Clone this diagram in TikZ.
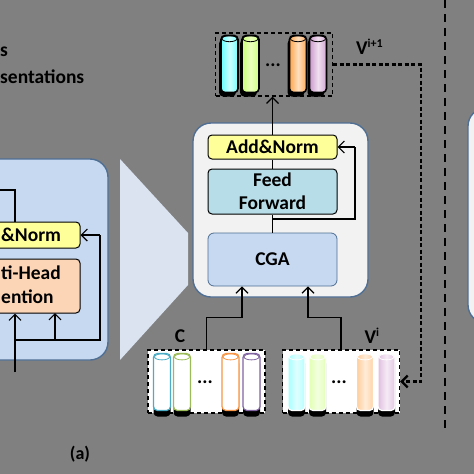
\documentclass[tikz,border=0pt]{standalone}
\usepackage{fontspec}
\setmainfont{Carlito}
\usetikzlibrary{arrows.meta,shadows}
\definecolor{bg}{HTML}{808080}
\definecolor{pborder}{HTML}{4F6F94}
\definecolor{lpanel}{HTML}{C6D9F1}
\definecolor{mpanel}{HTML}{F2F2F2}
\definecolor{tri}{HTML}{DAE3EF}
\definecolor{yel}{HTML}{FFFF99}
\definecolor{ffc}{HTML}{B7DDE8}
\definecolor{cgac}{HTML}{C6D9F1}
\definecolor{mhac}{HTML}{FBD5B5}
\definecolor{cblue}{HTML}{4BACC6}
\definecolor{cgreen}{HTML}{9BBB59}
\definecolor{corange}{HTML}{F79646}
\definecolor{cpurple}{HTML}{8064A2}
\newcommand\fnt{\bfseries\fontsize{19.5}{24}\selectfont}
\newcommand\mycyl[5]{%
  \node[cylb,#4] (#1) at (#2,#3) {};
  \draw[#5, line width=0.8pt] ([yshift=-4pt]#1.north) ellipse [x radius=7.5pt, y radius=3pt];
}
\begin{document}
\begin{tikzpicture}[x=1pt,y=-1pt,
  panel/.style={draw=pborder, line width=1.4pt, rounded corners=18pt, inner sep=0pt},
  blk/.style={draw=black, line width=1pt, rounded corners=4pt, minimum width=129pt, inner sep=0pt, align=center, font=\fnt},
  lbl/.style={font=\fnt, inner sep=0pt},
  arr/.style={line width=1.2pt, -{Straight Barb[length=6pt,width=12pt]}},
  ln/.style={line width=1.2pt},
  vecbox/.style={draw=black, dash pattern=on 4pt off 3pt, line width=1.3pt, minimum width=117pt, minimum height=63pt, inner sep=0pt},
  fbk/.style={line width=2.2pt, dash pattern=on 4pt off 2.5pt, -{Straight Barb[length=6pt,width=12pt]}},
  sep/.style={line width=1.8pt, dash pattern=on 8pt off 6pt},
  cylb/.style={rounded corners=4pt, minimum width=17pt, minimum height=57pt, inner sep=0pt, line width=1.2pt},
  topcyl/.style={draw=black, line width=1.6pt, drop shadow={shadow xshift=-2pt, shadow yshift=-4pt, fill=black, opacity=1}},
  botcyl/.style={drop shadow={shadow xshift=0pt, shadow yshift=-6pt, fill=black, opacity=1}},
]
\useasboundingbox (0,0) rectangle (474,474);
\fill[bg] (0,0) rectangle (474,474);

% left panel (cropped)
\node[panel, fill=lpanel, minimum width=168pt, minimum height=201pt] (lp) at (24,259.5) {};
\node[blk, fill=yel, minimum height=26pt, minimum width=130pt] (laddm) at (15,235) {};
\node[lbl, anchor=west] (tnorm) at (1,235) {\&Norm};
\node[blk, fill=mhac, minimum height=54pt, minimum width=130pt] (lmha) at (15,286) {};
\node[lbl, anchor=west] (tmha1) at (1,273) {ti-Head};
\node[lbl, anchor=west] (tmha2) at (1,297) {ention};
\coordinate (lin) at (15,372);
\coordinate (lsplit) at (15,340);
\coordinate (ltop) at (0,190);
\draw[arr] (lin) -- (lmha.south -| lin);
\draw[ln] (lsplit) -- (100,340) -- (100,235);
\draw[arr] (100,235) -- (laddm.east);
\draw[arr] (55,340) -- (55,313);
\draw[ln] (laddm.north -| lin) |- (ltop);

% top-left text (cropped in the original)
\node[lbl, anchor=west] (ts) at (0,52) {s};
\node[lbl, anchor=west] (tsent) at (0,77) {sentations};

% projection shape
\fill[tri] (120,159) -- (188,233) -- (188,285) -- (120,360) -- cycle;

% middle panel
\node[panel, fill=mpanel, minimum width=175pt, minimum height=174pt] (mp) at (280.5,210) {};
\node[blk, fill=yel, minimum height=24pt] (addm) at (272.5,147) {Add\&Norm};
\node[blk, fill=ffc, minimum height=45pt] (ff) at (272.5,191.5) {Feed\\[-1pt]Forward};
\node[blk, fill=cgac, draw=pborder, line width=0.8pt, rounded corners=6pt, minimum height=53pt] (cga) at (272.5,259.5) {CGA};
\coordinate (res) at (272.5,219);
\draw[ln] (cga.north) -- (ff.south);
\draw[ln] (ff.north) -- (addm.south);
\draw[ln] (res) -- (355,219) -- (355,147);
\draw[arr] (355,147) -- (addm.east);

% right panel (cropped)
\node[panel, fill=mpanel, minimum width=120pt, minimum height=215pt] (rp) at (528,215.5) {};
\draw[sep] (445,0) coordinate (s1) -- (445,433) coordinate (s2);

% output vectors
\node[vecbox] (out) at (274,64.5) {};
\mycyl{o1}{229.5}{64}{topcyl, left color=cyan!60!white, right color=cyan!55!white, middle color=cyan!20!white}{black}
\mycyl{o2}{250.5}{64}{topcyl, left color=green!40!yellow!55!white, right color=green!40!yellow!50!white, middle color=green!30!yellow!25!white}{black}
\mycyl{o3}{298}{64}{topcyl, left color=orange!70!white, right color=orange!65!white, middle color=orange!25!white}{black}
\mycyl{o4}{318}{64}{topcyl, left color=violet!40!white, right color=violet!35!white, middle color=violet!12!white}{black}
\node[lbl, anchor=base] (odots) at (273,66) {...};
\node[lbl, anchor=west] (vi1) at (356,47) {V\textsuperscript{\fontsize{12}{12}\selectfont i+1}};

% C vectors
\node[vecbox, fill=white] (cbox) at (206.5,381.5) {};
\mycyl{c1}{162}{382}{botcyl, draw=cblue, fill=white}{cblue}
\mycyl{c2}{182}{382}{botcyl, draw=cgreen, fill=white}{cgreen}
\mycyl{c3}{230.5}{382}{botcyl, draw=corange, fill=white}{corange}
\mycyl{c4}{251.5}{382}{botcyl, draw=cpurple, fill=white}{cpurple}
\node[lbl, anchor=base] (cdots) at (205,383) {...};
\node[lbl] (clab) at (180,336) {C};

% V^i vectors
\node[vecbox, fill=white] (vbox) at (341,381.5) {};
\mycyl{v1}{296.5}{382}{botcyl, draw=white, left color=cyan!35!white, right color=cyan!30!white, middle color=cyan!12!white}{white}
\mycyl{v2}{317.5}{382}{botcyl, draw=white, left color=green!40!yellow!30!white, right color=green!40!yellow!28!white, middle color=green!40!yellow!12!white}{white}
\mycyl{v3}{365}{382}{botcyl, draw=white, left color=orange!40!white, right color=orange!35!white, middle color=orange!15!white}{white}
\mycyl{v4}{386.5}{382}{botcyl, draw=white, left color=violet!25!white, right color=violet!22!white, middle color=violet!8!white}{white}
\node[lbl, anchor=base] (vdots) at (339,383) {...};
\node[lbl] (vlab) at (372,336) {V\textsuperscript{\fontsize{12}{12}\selectfont i}};

% connectors
\draw[arr] (addm.north) -- (addm.north |- out.south);
\draw[arr] (cbox.north) -- ++(0,-32) -| ([xshift=-30.5pt]cga.south);
\draw[arr] (vbox.north) -- ++(0,-32) -| ([xshift=35.5pt]cga.south);
\draw[fbk] (out.east) -- ++(88,0) |- (vbox.east);

\node[lbl, font=\bfseries\fontsize{18}{20}\selectfont] (cap) at (80,454) {(a)};
\end{tikzpicture}
\end{document}
